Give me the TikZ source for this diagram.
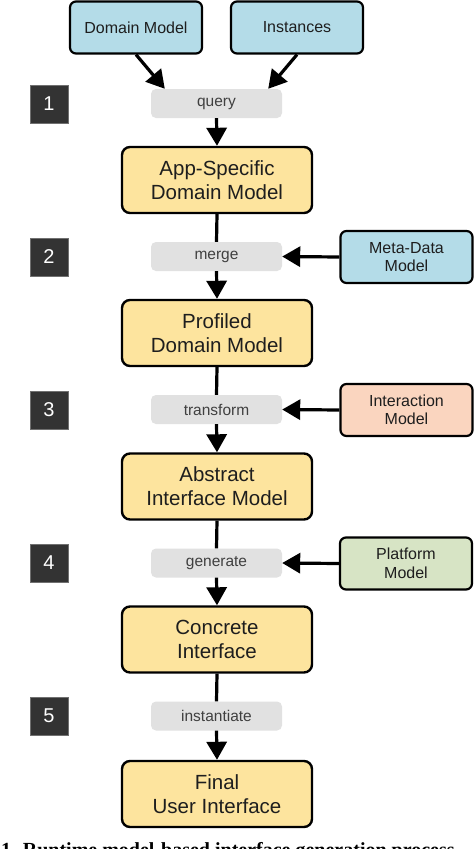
\documentclass[tikz,border=0pt]{standalone}
\usepackage{fontspec}
\setmainfont{Liberation Sans}
\newfontfamily\capfont{Liberation Serif}
\usetikzlibrary{arrows.meta,calc}
\definecolor{sideblue}{HTML}{B4DCE8}
\definecolor{sidepeach}{HTML}{FAD5BF}
\definecolor{sidegreen}{HTML}{D7E4C5}
\definecolor{mainyellow}{HTML}{FDE49E}
\definecolor{opgray}{HTML}{E1E1E1}
\definecolor{numdark}{HTML}{333333}
\definecolor{txt}{HTML}{1E1E1E}
\tikzset{
  mainbox/.style={draw=black, line width=2.4pt, fill=mainyellow, rounded corners=8pt,
    minimum width=190pt, minimum height=66pt, align=center, inner sep=0pt,
    text=txt, font=\fontsize{20.5}{24}\selectfont},
  sidebox/.style={draw=black, line width=2.2pt, rounded corners=6pt,
    minimum width=132pt, minimum height=52pt, align=center, inner sep=0pt,
    text=txt, font=\fontsize{16}{18.5}\selectfont},
  opbox/.style={fill=opgray, rounded corners=5pt, minimum width=131pt, minimum height=29pt,
    inner sep=0pt, text=txt!85, font=\fontsize{15.5}{18}\selectfont},
  numbox/.style={fill=numdark, draw=numdark!70, line width=0.6pt, minimum width=38pt, minimum height=38pt,
    inner sep=0pt, text=white, font=\fontsize{20}{22}\selectfont},
  arr/.style={-{Triangle[length=18pt,width=20pt]}, line width=3.2pt},
  lin/.style={line width=3.2pt}
}
\begin{document}
\begin{tikzpicture}[x=1pt,y=-1pt]
\useasboundingbox (0,0) rectangle (474,849);
\fill[white] (0,0) rectangle (474,849);

% top inputs
\node[sidebox, fill=sideblue] (dm) at (136,27.5) {Domain Model};
\node[sidebox, fill=sideblue] (inst) at (297,27.5) {Instances};

% step 1
\node[numbox] (n1) at (49,104) {1};
\node[opbox] (query) at (216.5,103.5) {query};
\node[mainbox] (app) at (217,180) {App-Specific\\Domain Model};
\coordinate (qa) at ($(query.north west)+(14,0)$);
\coordinate (qb) at ($(query.north east)+(-14,0)$);
\draw[arr] (dm.south) -- (qa);
\draw[arr] (inst.south) -- (qb);
\draw[arr] (query.south) -- (app.north);

% step 2
\node[numbox] (n2) at (49,257) {2};
\node[opbox] (merge) at (216.5,256.5) {merge};
\node[sidebox, fill=sideblue] (meta) at (406.5,257) {Meta-Data\\Model};
\node[mainbox] (prof) at (217,333) {Profiled\\Domain Model};
\draw[lin] (app.south) -- (merge.north);
\draw[arr] (merge.south) -- (prof.north);
\draw[arr] (meta.west) -- (merge.east);

% step 3
\node[numbox] (n3) at (49,410) {3};
\node[opbox] (transform) at (216.5,409.5) {transform};
\node[sidebox, fill=sidepeach] (inter) at (406.5,410) {Interaction\\Model};
\node[mainbox] (abs) at (217,486.5) {Abstract\\Interface Model};
\draw[lin] (prof.south) -- (transform.north);
\draw[arr] (transform.south) -- (abs.north);
\draw[arr] (inter.west) -- (transform.east);

% step 4
\node[numbox] (n4) at (49,563) {4};
\node[opbox] (generate) at (216.5,563) {generate};
\node[sidebox, fill=sidegreen] (plat) at (406,563.5) {Platform\\Model};
\node[mainbox] (conc) at (217,639.5) {Concrete\\Interface};
\draw[lin] (abs.south) -- (generate.north);
\draw[arr] (generate.south) -- (conc.north);
\draw[arr] (plat.west) -- (generate.east);

% step 5
\node[numbox] (n5) at (49,716) {5};
\node[opbox] (instantiate) at (216.5,716) {instantiate};
\node[mainbox] (final) at (217,794) {Final\\User Interface};
\draw[lin] (conc.south) -- (instantiate.north);
\draw[arr] (instantiate.south) -- (final.north);

% clipped caption (cut off at the lower edge, as in the reference)
\node[anchor=base west, inner sep=0pt, font=\capfont\bfseries\fontsize{20}{22}\selectfont] (cap) at (1,856) {1. Runtime model-based interface generation process};
\end{tikzpicture}
\end{document}
